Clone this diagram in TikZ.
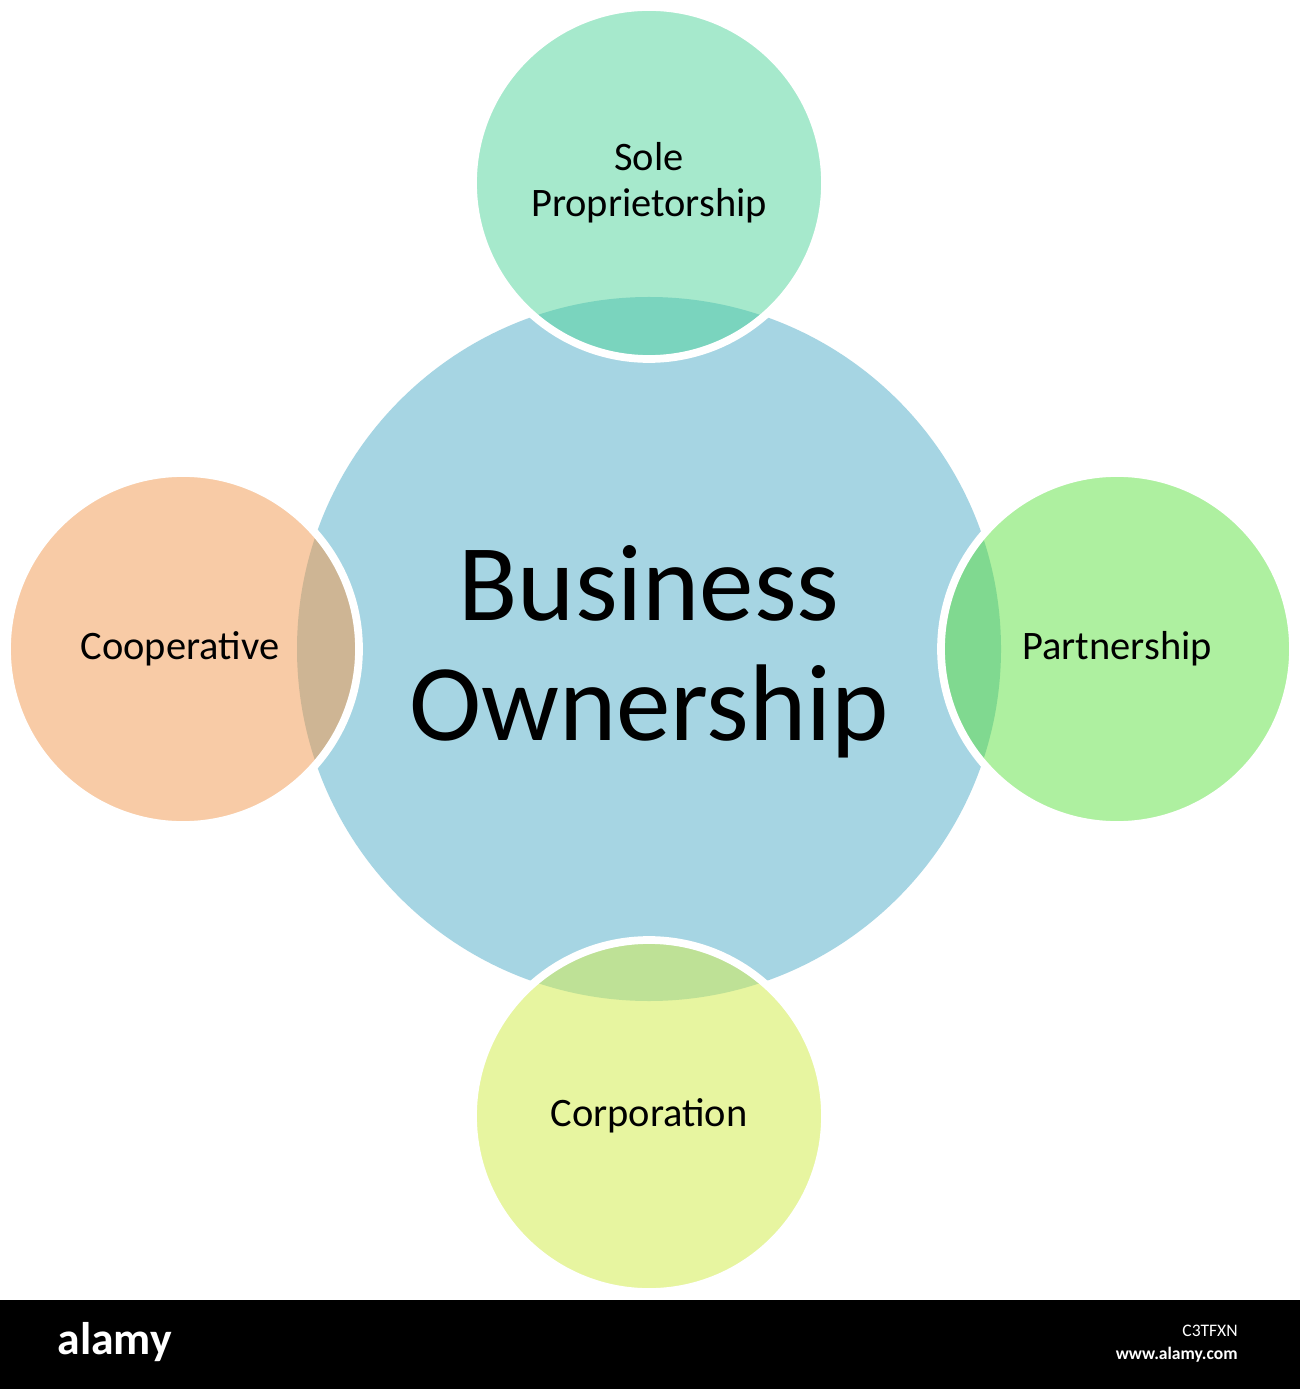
\documentclass[tikz,border=0pt]{standalone}
\usepackage{fontspec}
\setmainfont{Carlito}
\definecolor{cbig}{HTML}{A6D5E3}
\definecolor{ctop}{HTML}{A6E9CC}\definecolor{otop}{HTML}{7AD4BE}
\definecolor{cright}{HTML}{AEF0A0}\definecolor{oright}{HTML}{80D990}
\definecolor{cbot}{HTML}{E7F5A0}\definecolor{obot}{HTML}{BEE196}
\definecolor{cleft}{HTML}{F8CBA6}\definecolor{oleft}{HTML}{CEB594}
\tikzset{lbl/.style={font=\fontsize{11.5}{13}\selectfont,align=center,text=black}}
\begin{document}
\begin{tikzpicture}[x=0.01cm,y=-0.01cm]
\useasboundingbox (0,0) rectangle (1300,1389);
\fill[white] (0,0) rectangle (1300,1389);
\fill[cbig] (649,649) circle[radius=352];
\foreach \x/\y/\c/\o in {649/183/ctop/otop,1117/649/cright/oright,649/1116/cbot/obot,183/649/cleft/oleft}{
  \fill[\c] (\x,\y) circle[radius=173];
  \begin{scope}
    \clip (649,649) circle[radius=352];
    \fill[\o] (\x,\y) circle[radius=173];
  \end{scope}
  \draw[white,line width=2.2pt] (\x,\y) circle[radius=176];
}
\node[align=center,font=\fontsize{31}{34}\selectfont] (big) at (649,652) {Business\\Ownership};
\node[lbl] (sole) at (649,183) {Sole\\Proprietorship};
\node[lbl] (part) at (1117,649) {Partnership};
\node[lbl] (corp) at (649,1116) {Corporation};
\node[lbl] (coop) at (180,649) {Cooperative};
\fill[black] (0,1300) rectangle (1300,1389);
\node[text=white,font=\bfseries\fontsize{13}{15}\selectfont,anchor=west] (al) at (45,1342) {alamy};
\node[text=white,font=\fontsize{5}{6}\selectfont,anchor=east] (id) at (1250,1331) {C3TFXN};
\node[text=white,font=\bfseries\fontsize{5}{6}\selectfont,anchor=east] (www) at (1250,1355) {www.alamy.com};
\end{tikzpicture}
\end{document}
